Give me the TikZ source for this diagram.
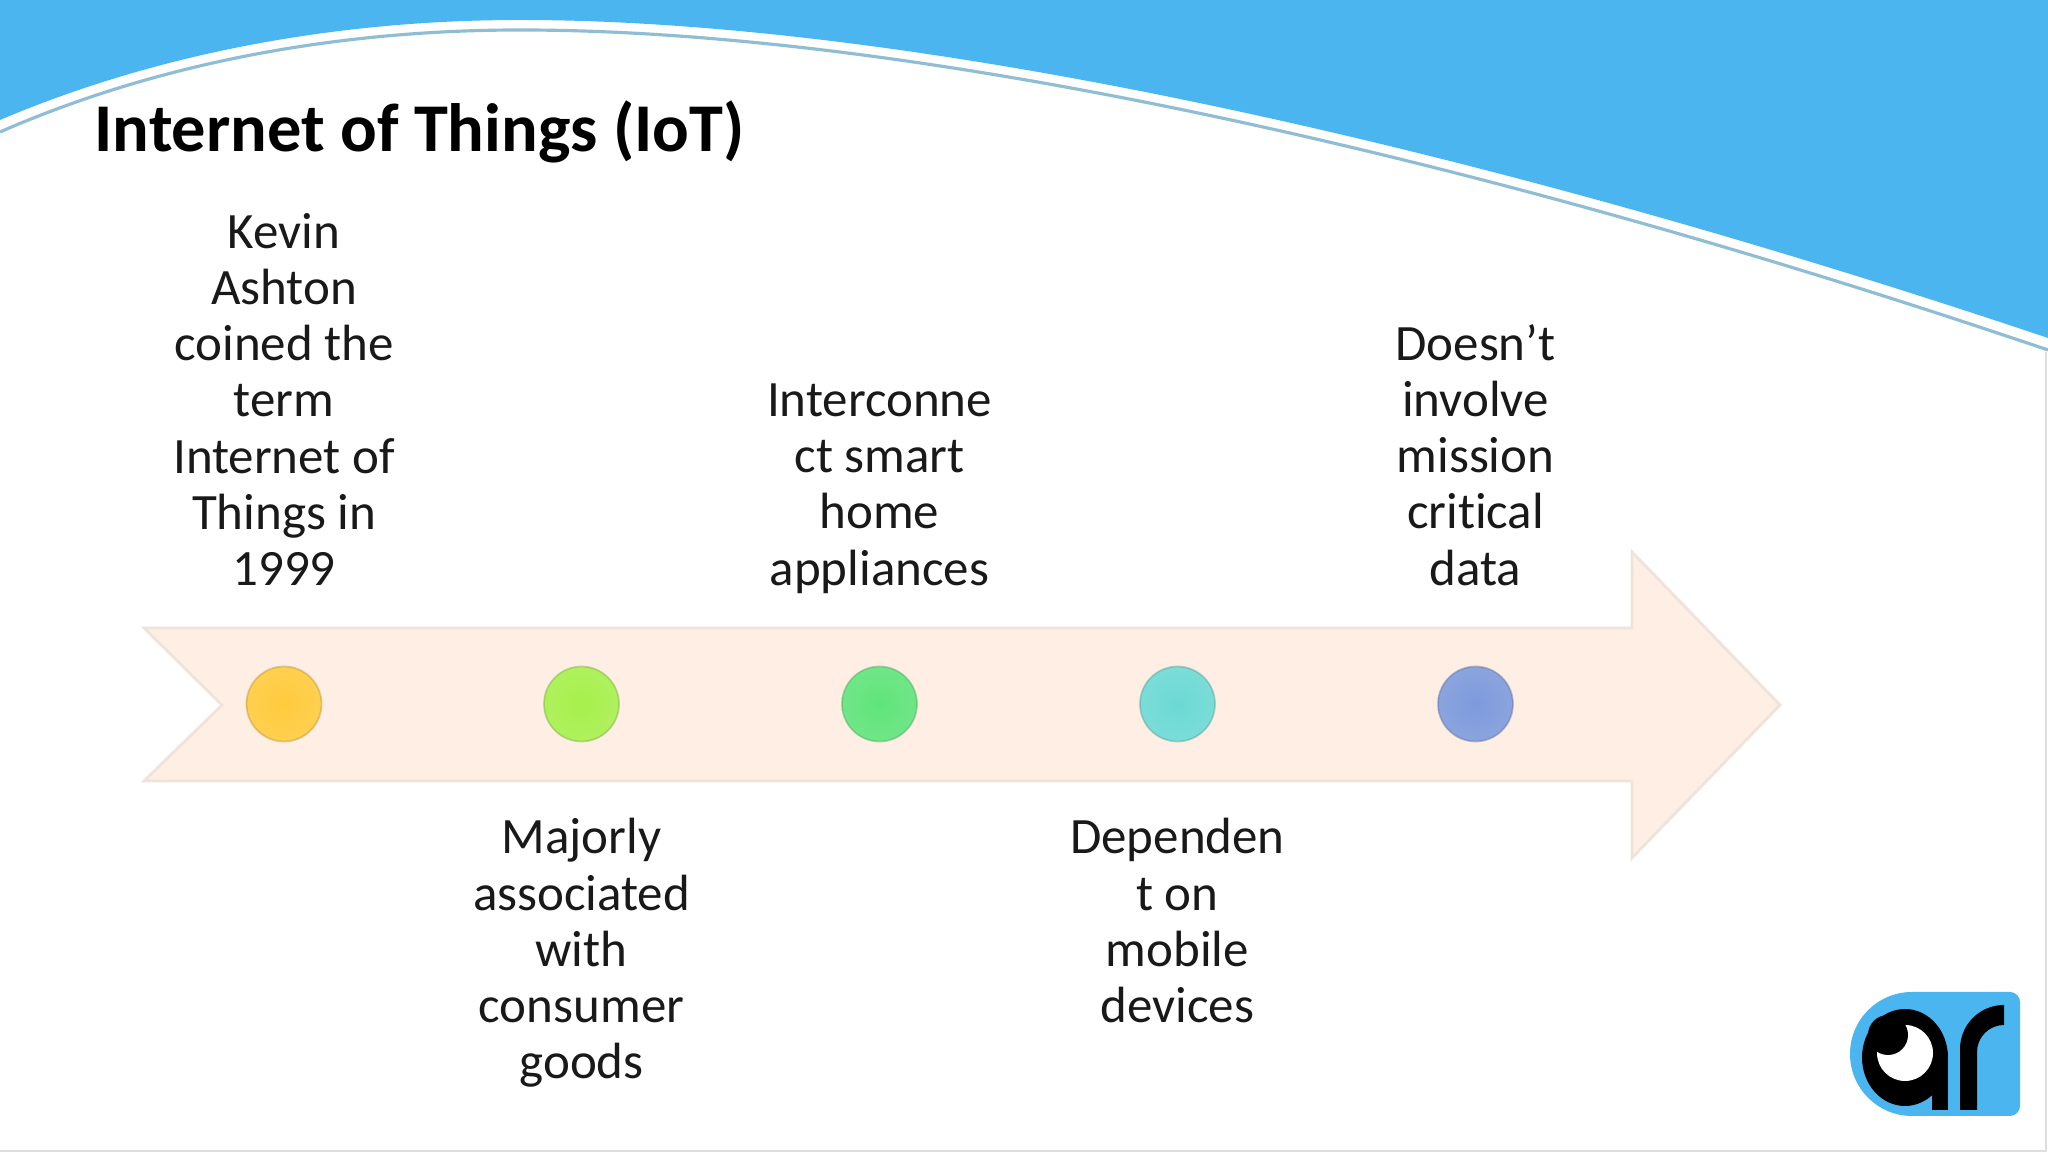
\documentclass[tikz,border=0pt]{standalone}
\usepackage{fontspec}
\setmainfont[Ligatures=NoCommon]{Carlito}
\usetikzlibrary{positioning}
\definecolor{slideblue}{HTML}{4BB5F0}
\definecolor{curveline}{HTML}{8FBDD3}
\definecolor{arrowfill}{HTML}{FEEEE4}
\definecolor{arrowedge}{HTML}{EFE3DA}
\definecolor{ballyellow}{HTML}{FFCB3D}
\definecolor{balllime}{HTML}{A6F04C}
\definecolor{ballgreen}{HTML}{60E47A}
\definecolor{ballteal}{HTML}{6CD9D4}
\definecolor{ballblue}{HTML}{7E9ADB}
\tikzset{
	ball/.style={circle,minimum size=0.75cm,inner sep=0pt,draw=#1!70!black,draw opacity=0.4,line width=0.5pt,shade,inner color=#1,outer color=#1!90!white},
	note/.style={align=center,inner sep=0pt,text=black!90,font=\fontsize{14.5}{16}\selectfont},
}
\begin{document}
\begin{tikzpicture}
			\useasboundingbox (0,0) rectangle (20.48,11.52);
			\fill [white] (0,0) rectangle (20.48,11.52);
			\draw [gray!25,line width=0.8pt] (0,0.01) -- (20.46,0.01) -- (20.46,8);
			\fill [slideblue] (0,11.52) -- (0,10.32) .. controls (1.6,11) and (3.4,11.32) .. (5.2,11.32) .. controls (9,11.32) and (14.5,10.15) .. (20.48,8.14) -- (20.48,11.52) -- cycle;
			\draw [curveline,line width=0.9pt] (0,10.2) .. controls (1.6,10.9) and (3.4,11.22) .. (5.2,11.22) .. controls (9,11.22) and (14.5,10.05) .. (20.48,8.02);
			\draw [arrowedge,fill=arrowfill,line width=0.8pt] (1.44,5.24) -- (2.22,4.47) -- (1.44,3.71) -- (16.32,3.71) -- (16.32,2.94) -- (17.8,4.47) -- (16.32,6.0) -- (16.32,5.24) -- cycle;
			\node [anchor=base west,inner sep=0pt,font=\bfseries\fontsize{19.45}{22}\selectfont] (title) at (0.94,10.0) {Internet of Things (IoT)};
			\node [ball=ballyellow] (ball1) at (2.84,4.48) {};
			\node [ball=balllime] (ball2) at (5.815,4.48) {};
			\node [ball=ballgreen] (ball3) at (8.795,4.48) {};
			\node [ball=ballteal] (ball4) at (11.775,4.48) {};
			\node [ball=ballblue] (ball5) at (14.755,4.48) {};
			\node [note,above=0.793cm of ball1] (ashton) {Kevin\\Ashton\\coined the\\term\\Internet of\\Things in\\1999};
			\node [note,below=0.754cm of ball2] (consumer) {Majorly\\associated\\with\\consumer\\goods};
			\node [note,above=0.715cm of ball3] (homes) {Interconne\\ct smart\\home\\appliances};
			\node [note,below=0.754cm of ball4] (mobile) {Dependen\\t on\\mobile\\devices};
			\node [note,above=0.793cm of ball5] (critical) {Doesn’t\\involve\\mission\\critical\\data};
			\fill [slideblue] (19.12,1.6) arc (90:270:0.62) -- (20.1,0.36) arc (270:360:0.1) -- (20.2,1.5) arc (0:90:0.1) -- cycle;
			\fill [black] (19.05,0.945) ellipse (0.43 and 0.485);
			\fill [black] (19.32,0.42) rectangle (19.48,0.99);
			\fill [white] (19.05,0.99) circle (0.28);
			\fill [black] (18.88,1.17) circle (0.2);
			\fill [black] (19.6,0.42) -- (19.6,1.03) arc (180:90:0.44) -- (20.04,1.27) arc (90:180:0.27) -- (19.77,0.42) -- cycle;
			\end{tikzpicture}
\end{document}
